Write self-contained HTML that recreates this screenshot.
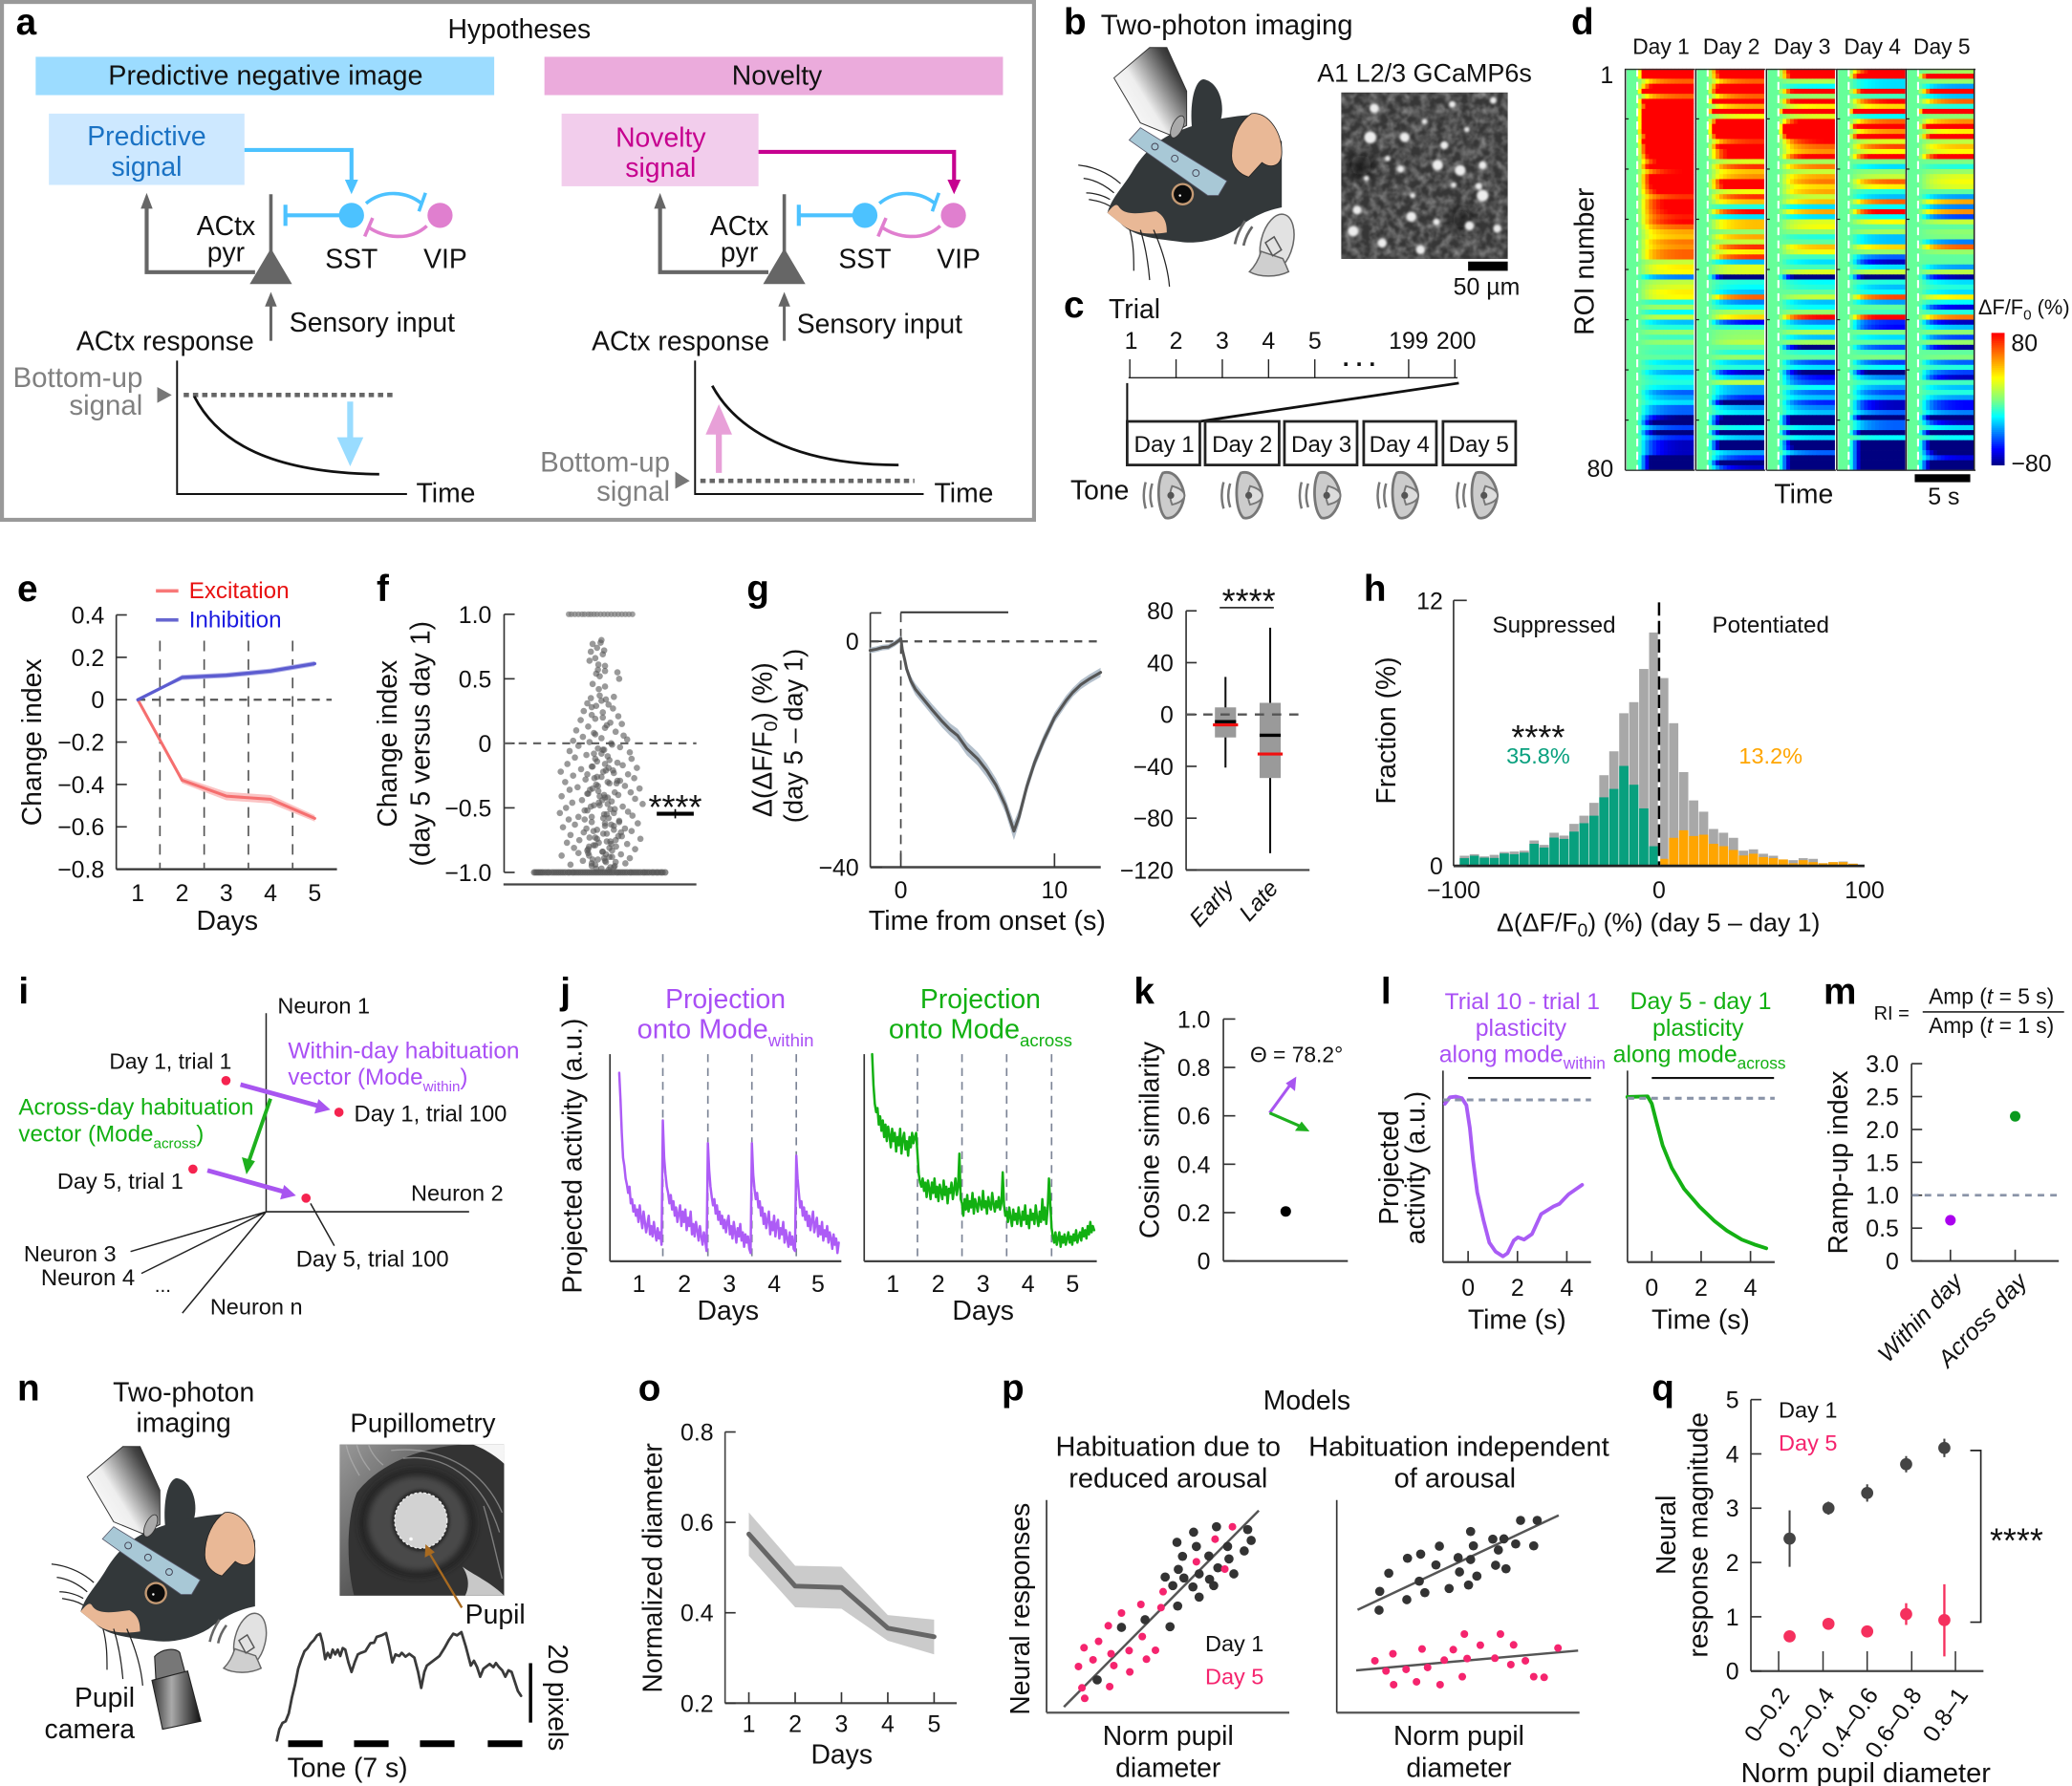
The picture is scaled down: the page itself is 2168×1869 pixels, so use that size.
<!DOCTYPE html>
<html lang="en"><head><meta charset="utf-8"><title>Habituation figure</title>
<style>
html,body{margin:0;padding:0;background:#fff}
svg{display:block}
text{font-family:"Liberation Sans",sans-serif;font-size:20.5px;fill:#111}
.m{text-anchor:middle}.e{text-anchor:end}
.L{font-size:28px;font-weight:bold;fill:#000}
.g{fill:#808080}.pu{fill:#a94ff5}.gr{fill:#12b012}.pk{fill:#f5246e}
.st{font-size:26px}
</style></head><body>
<svg id="fig" xmlns="http://www.w3.org/2000/svg" width="2168" height="1869" viewBox="0 0 1568 1352" preserveAspectRatio="none">
<defs>
<clipPath id="tpClip"><rect x="1015" y="70" width="126" height="126"/></clipPath>
<clipPath id="pupClip"><rect x="257" y="1093.500" width="124.500" height="114.500"/></clipPath>
<linearGradient id="objG" x1="0" y1="0.85" x2="1" y2="0.1"><stop offset="0" stop-color="#fff"/><stop offset=".4" stop-color="#eee"/><stop offset=".8" stop-color="#444"/><stop offset="1" stop-color="#111"/></linearGradient>
<linearGradient id="camG" x1="0" y1="0" x2="1" y2="0"><stop offset="0" stop-color="#333"/><stop offset=".4" stop-color="#aaa"/><stop offset="1" stop-color="#111"/></linearGradient>
<linearGradient id="furG" x1="0" y1="0" x2="1" y2="1"><stop offset="0" stop-color="#999"/><stop offset=".5" stop-color="#5c5c5c"/><stop offset="1" stop-color="#2c2c2c"/></linearGradient>
<filter id="noise" x="0" y="0" width="100%" height="100%"><feTurbulence type="fractalNoise" baseFrequency=".16" numOctaves="3" seed="4"/><feColorMatrix values="0 0 0 0 .8  0 0 0 0 .8  0 0 0 0 .8  1.6 0 0 0 -.55"/><feGaussianBlur stdDeviation=".5"/></filter>
<filter id="soft"><feGaussianBlur stdDeviation="1"/></filter>
<filter id="softer"><feGaussianBlur stdDeviation="5"/></filter>
<filter id="irisBlur"><feGaussianBlur stdDeviation="2.500"/></filter>
<g id="mouse">
<path d="M902,97 C900,75 905,60 911,60 C922,62 927,78 924,90 L915,100 Z" fill="#33383a"/>
<path d="M838,161 C842,148 850,142 858,128 C868,112 880,103 895,98 C910,92 930,88 947,87 L970,107 L970,157 C955,160 945,166 935,174 C922,182 905,185 893,183 C878,181 858,180 848,169 Z" fill="#33383a"/>
<path d="M838,161 C842,156 845,153 847,157 C852,164 865,161 875,160 C882,164 883,170 883,176 C872,178 856,177 848,169 Z" fill="#e9b896"/>
<path d="M947,86 C958,84 970,98 970,115 C970,126 962,128 955,123 L945,134 C938,132 932,126 932,118 C932,105 938,92 947,86 Z" fill="#e9b896" stroke="#222" stroke-width=".6"/>
<path d="M843,59 L870,36 L883,36 L898,69 L898,95 L885,102 L863,93 Z" fill="url(#objG)" stroke="#333" stroke-width=".7"/>
<ellipse cx="891" cy="96" rx="4" ry="9" transform="rotate(25 891 96)" fill="#aaa" stroke="#333" stroke-width=".6"/>
<path d="M854.5,106 L863,96.700 L928.500,137 L922,148 L914,148 Z" fill="#a8c8d6" stroke="#556" stroke-width=".6"/>
<circle cx="874" cy="111" r="2.500" fill="none" stroke="#445" stroke-width=".7"/><circle cx="889" cy="120" r="2.500" fill="none" stroke="#445" stroke-width=".7"/><circle cx="905" cy="131" r="2.500" fill="none" stroke="#445" stroke-width=".7"/>
<circle cx="895" cy="147" r="8.500" fill="#c49a74"/><circle cx="895" cy="147" r="6.800" fill="#0b0b0b"/><circle cx="893" cy="148" r=".9" fill="#fff"/>
<path d="M848,139 C838,130 826,126 816,125 M843,146 C836,140 828,136 820,135 M840,151 C835,148 828,146 822,146 M840,156 C835,153 830,152 824,151 M855,174 C858,185 858,195 858,205 M863,174 C867,187 869,200 870,212 M873,174 C880,190 884,205 885,217" fill="none" stroke="#222" stroke-width=".9"/>
</g>
<g id="spk">
<ellipse cx="4" cy="-3" rx="11" ry="20" transform="rotate(14 4 -3)" fill="#e2e2e2" stroke="#666" stroke-width="1"/>
<path d="M-7,3 C-9,10 -12,14 -15,17 C-8,21 4,21 12,17 C10,12 9,10 8,8 Z" fill="#cfcfcf" stroke="#666" stroke-width="1"/>
<path d="M-4,-3 L2,-7 L7,2 L1,6 Z" fill="none" stroke="#555" stroke-width="1"/>
<path d="M-13,-14 C-16,-10 -18,-6 -19,-1 M-18,-18 C-22,-12 -24,-7 -25,-2" fill="none" stroke="#666" stroke-width="1.800"/>
</g>
<g id="tone">
<path d="M-3,-17 C8,-20 13,-5 13,0 C13,6 8,19 -1,17 C-7,12 -8,-10 -3,-17 Z" fill="#ccc" stroke="#777" stroke-width="2"/>
<path d="M4,-7 C16,-4 17,4 4,7 C2,2 2,-2 4,-7Z" fill="#ddd" stroke="#777" stroke-width="1.400"/><circle cx="3" cy="0" r="2.600" fill="#555"/>
<path d="M-11,-9 C-13,-3 -13,3 -11,9 M-16,-10 C-18,-3 -18,3 -16,10" fill="none" stroke="#777" stroke-width="1.800"/>
</g>
</defs>

<!-- panel a -->
<g>
<rect x="1.500" y="1.500" width="781" height="392" fill="#fff" stroke="#999" stroke-width="3"/>
<text class="L" x="12" y="26">a</text>
<text class="m" x="393" y="29">Hypotheses</text>
<rect x="27" y="43" width="347" height="29" fill="#9cdcff"/>
<text class="m" x="201" y="64" style="font-size:20.800px">Predictive negative image</text>
<rect x="412" y="43" width="347" height="29" fill="#ebabdc"/>
<text class="m" x="588" y="64">Novelty</text>
<rect x="37" y="86" width="148" height="54" fill="#cde8ff"/>
<text class="m" x="111" y="110" style="fill:#1a72c4">Predictive</text>
<text class="m" x="111" y="133" style="fill:#1a72c4">signal</text>
<rect x="425" y="86" width="149" height="55" fill="#f2cdec"/>
<text class="m" x="500" y="111" style="fill:#c6008f">Novelty</text>
<text class="m" x="500" y="134" style="fill:#c6008f">signal</text>
<path d="M185,113.500 H266 V140" fill="none" stroke="#4cc2ff" stroke-width="3"/><path d="M261,136 H271 L266,147Z" fill="#4cc2ff"/>
<path d="M574,115 H722 V140" fill="none" stroke="#c6008f" stroke-width="3"/><path d="M717,136 H727 L722,147Z" fill="#c6008f"/>
<g id="circuit">
<path d="M205,147 V195" stroke="#666" stroke-width="2.600"/><path d="M205,188 L221,215 H189 Z" fill="#666"/>
<path d="M193,206 H111 V155" fill="none" stroke="#666" stroke-width="3"/><path d="M106.500,158 L111,146 L115.500,158Z" fill="#666"/>
<path d="M205,258 V228" stroke="#666" stroke-width="2.200"/><path d="M200.500,232 L205,221 L209.500,232Z" fill="#666"/>
<path d="M258,163 H216 M216,155 V171" stroke="#4cc2ff" stroke-width="3" fill="none"/>
<circle cx="266" cy="163" r="9.500" fill="#4cc2ff"/><circle cx="333" cy="163" r="9.500" fill="#e07fcf"/>
<path d="M277,154 C290,143 308,145 319,154 M322,146 L317,160" fill="none" stroke="#4cc2ff" stroke-width="2.600"/>
<path d="M323,171 C310,183 290,180 279,172 M282,165 L276,179" fill="none" stroke="#e07fcf" stroke-width="2.600"/>
<text class="m" x="171" y="178">ACtx</text><text class="m" x="171" y="198">pyr</text>
<text class="m" x="266" y="203">SST</text><text class="m" x="337" y="203">VIP</text>
</g>
<use href="#circuit" transform="translate(388.500,0)"/>
<text x="219" y="251">Sensory input</text>
<text x="603" y="252">Sensory input</text>
<text class="m" x="125" y="265">ACtx response</text>
<text class="m" x="515" y="265">ACtx response</text>
<path d="M134,273 V374 H308 M526,273 V374 H699" fill="none" stroke="#111" stroke-width="1.400"/>
<text x="315" y="380">Time</text><text x="707" y="380">Time</text>
<text class="e g" x="108" y="293" style="font-size:21.300px">Bottom-up</text><text class="e g" x="108" y="314" style="font-size:21.300px">signal</text>
<text class="e g" x="507" y="357" style="font-size:21.300px">Bottom-up</text><text class="e g" x="507" y="379" style="font-size:21.300px">signal</text>
<path d="M119,293 L130,299 L119,305Z M511,357 L522,364 L511,370Z" fill="#777"/>
<path d="M139,299 H297 M530,364 H692" stroke="#666" stroke-width="3.400" stroke-dasharray="4 3"/>
<path d="M147,300 C165,335 205,358 287,359" fill="none" stroke="#111" stroke-width="2"/>
<path d="M539,292 C557,325 600,352 680,352" fill="none" stroke="#111" stroke-width="2"/>
<path d="M265,304 V335" stroke="#99dcff" stroke-width="4.500"/><path d="M255,331 H275 L265,353Z" fill="#99dcff"/>
<path d="M544,358 V325" stroke="#e8a0d8" stroke-width="4.500"/><path d="M534,329 H554 L544,306Z" fill="#e8a0d8"/>
</g>

<!-- panel b -->
<g>
<text class="L" x="805" y="26">b</text>
<text x="833" y="26" style="font-size:21.200px">Two-photon imaging</text>
<use href="#mouse"/>
<use href="#spk" transform="translate(962,187) scale(1.100)"/>
<text class="m" x="1078" y="62" style="font-size:19.500px">A1 L2/3 GCaMP6s</text>
<rect x="1015" y="70" width="126" height="126" fill="#363636"/>
<rect x="1015" y="70" width="126" height="126" filter="url(#noise)" opacity=".55"/>
<g clip-path="url(#tpClip)"><g id="tpDark" filter="url(#softer)"><circle cx="1030" cy="125" r="8" fill="#0a0a0a"/><circle cx="1106" cy="166" r="7" fill="#0a0a0a"/></g></g>
<g id="tpBlobs" filter="url(#soft)"></g>
<rect x="1111" y="198" width="30" height="7" fill="#000"/>
<text class="m" x="1125" y="223" style="font-size:18px">50 µm</text>
</g>

<!-- panel c -->
<g font-size="18">
<text class="L" x="805" y="240">c</text>
<text x="839" y="241">Trial</text>
<text class="m" x="856" y="264" style="font-size:18px">1</text><text class="m" x="890" y="264" style="font-size:18px">2</text><text class="m" x="925" y="264" style="font-size:18px">3</text><text class="m" x="960" y="264" style="font-size:18px">4</text><text class="m" x="995" y="264" style="font-size:18px">5</text><text class="m" x="1066" y="264" style="font-size:18px">199</text><text class="m" x="1102" y="264" style="font-size:18px">200</text>
<path d="M855,272 V286 M890,272 V286 M925,272 V286 M960,272 V286 M995,272 V286 M1066,272 V286 M1101,272 V286 M854,286 H1103" fill="none" stroke="#222" stroke-width="1"/>
<text class="m" x="1031" y="277" style="font-size:18px;font-weight:bold;letter-spacing:5px">...</text>
<path d="M853,290 V319" stroke="#111" stroke-width="1.500"/><path d="M908,319 L1104,290" stroke="#111" stroke-width="2"/>
<g fill="#fff" stroke="#222" stroke-width="2"><rect x="853" y="319" width="55" height="33"/><rect x="912" y="319" width="56" height="33"/><rect x="972" y="319" width="55" height="33"/><rect x="1032" y="319" width="55" height="33"/><rect x="1092" y="319" width="55" height="33"/></g>
<text class="m" x="881" y="342" style="font-size:17.500px">Day 1</text><text class="m" x="940" y="342" style="font-size:17.500px">Day 2</text><text class="m" x="1000" y="342" style="font-size:17.500px">Day 3</text><text class="m" x="1059" y="342" style="font-size:17.500px">Day 4</text><text class="m" x="1119" y="342" style="font-size:17.500px">Day 5</text>
<text x="810" y="378">Tone</text>
<use href="#tone" transform="translate(883,375)"/><use href="#tone" transform="translate(942,375)"/><use href="#tone" transform="translate(1001,375)"/><use href="#tone" transform="translate(1060,375)"/><use href="#tone" transform="translate(1120,375)"/>
</g>

<!-- panel d -->
<g id="panelD">
<text class="L" x="1189" y="26">d</text>
<text class="e" x="1221" y="63" style="font-size:18px">1</text>
<text class="e" x="1221" y="361" style="font-size:18px">80</text>
<text class="m" transform="translate(1206,198) rotate(-90)">ROI number</text>
<text class="m" x="1365" y="381">Time</text>
<rect x="1449" y="359" width="42" height="6" fill="#000"/>
<text class="m" x="1471" y="382" style="font-size:18px">5 s</text>
<text x="1497" y="238" style="font-size:15.800px">ΔF/F<tspan font-size="11" dy="4">0</tspan><tspan dy="-4"> (%)</tspan></text>
<text x="1522" y="266" style="font-size:18px">80</text>
<text x="1522" y="357" style="font-size:18px">−80</text>
</g>

<!-- chart groups -->
<g id="panelE">
<text class="L" x="13" y="455">e</text>
<text class="m" transform="translate(31,562) rotate(-90)">Change index</text>
<text class="m" x="172" y="704">Days</text>
<rect x="118" y="446" width="17" height="2.600" fill="#f87878"/>
<text x="143" y="453" style="font-size:17.500px;fill:#e81010">Excitation</text>
<rect x="118" y="468" width="17" height="2.600" fill="#6666d0"/>
<text x="143" y="475" style="font-size:17.500px;fill:#1a1ae0">Inhibition</text>
</g>
<g id="panelF">
<text class="L" x="285" y="455">f</text>
<text class="m" transform="translate(300,563) rotate(-90)">Change index</text>
<text class="m" transform="translate(325,563) rotate(-90)">(day 5 versus day 1)</text>
<text class="m st" x="511" y="620">****</text>
</g>
<g id="panelG">
<text class="L" x="565" y="455">g</text>
<text class="m" transform="translate(584,560) rotate(-90)">Δ(ΔF/F<tspan font-size="14" dy="4">0</tspan><tspan dy="-4">) (%)</tspan></text>
<text class="m" transform="translate(607,557) rotate(-90)" style="font-size:19.800px">(day 5 – day 1)</text>
<text class="m" x="747" y="704" style="font-size:20.800px">Time from onset (s)</text>
<text class="m st" x="945" y="464">****</text>
</g>
<g id="panelH">
<text class="L" x="1032" y="455">h</text>
<text class="m" transform="translate(1056,553) rotate(-90)">Fraction (%)</text>
<text class="m" x="1176" y="479" style="font-size:17.500px">Suppressed</text>
<text class="m" x="1340" y="479" style="font-size:17.500px">Potentiated</text>
<text class="m st" x="1164" y="567">****</text>
<text class="m" x="1164" y="578" style="font-size:17px;fill:#08a07e">35.8%</text>
<text class="m" x="1340" y="578" style="font-size:17px;fill:#ffa500">13.2%</text>
<text class="m" x="1255" y="705" style="font-size:19.300px">Δ(ΔF/F<tspan font-size="14" dy="4">0</tspan><tspan dy="-4">) (%) (day 5 – day 1)</tspan></text>
</g>

<!-- panel i -->
<g>
<text class="L" x="14" y="760">i</text>
<path d="M201.400,767 V917.300 H355 M201.400,917.300 L98.800,947.400 M201.400,917.300 L107,964 M201.400,917.300 L138,994 M235,911 L253,943" fill="none" stroke="#222" stroke-width="1.100"/>
<g>
<text x="210" y="767" style="font-size:17px">Neuron 1</text><text class="m" x="129" y="809" style="font-size:16.500px">Day 1, trial 1</text><text x="268" y="849" style="font-size:17.200px">Day 1, trial 100</text><text class="m" x="91" y="900" style="font-size:17px">Day 5, trial 1</text><text x="311" y="909" style="font-size:17px">Neuron 2</text><text x="224" y="959" style="font-size:17.200px">Day 5, trial 100</text><text x="18" y="955" style="font-size:17px">Neuron 3</text><text x="31" y="973" style="font-size:17.300px">Neuron 4</text><text x="117" y="978" style="font-size:15px">...</text><text x="159" y="995" style="font-size:17px">Neuron n</text>
</g>
<text x="218" y="801" class="pu" style="font-size:17.700px">Within-day habituation</text>
<text x="218" y="821" class="pu" style="font-size:17.500px">vector (Mode<tspan font-size="11" dy="5">within</tspan><tspan dy="-5">)</tspan></text>
<text x="14" y="844" class="gr" style="font-size:17.500px">Across-day habituation</text>
<text x="14" y="864" class="gr" style="font-size:17.500px">vector (Mode<tspan font-size="11" dy="5">across</tspan><tspan dy="-5">)</tspan></text>
<g fill="#f5234f"><circle cx="171" cy="818" r="3.500"/><circle cx="256.500" cy="842" r="3.500"/><circle cx="146" cy="885" r="3.500"/><circle cx="231.600" cy="907" r="3.500"/></g>
<path d="M182,821 L244,838 M157,886 L218,903" stroke="#a855f0" stroke-width="3.500" fill="none"/>
<path d="M250,840 L238,843 L241,832Z M224,905 L212,908 L215,897Z" fill="#a855f0"/>
<path d="M204.700,831.700 L188,880" stroke="#1eb01e" stroke-width="2.800"/>
<path d="M186.500,889 L183,876 L193,879Z" fill="#1eb01e"/>
</g>

<g id="panelJ">
<text class="L" x="424" y="760">j</text>
<text class="m pu" x="549" y="763">Projection</text>
<text class="m pu" x="549" y="786" style="font-size:21px">onto Mode<tspan font-size="13.500" dy="6">within</tspan></text>
<text class="m gr" x="742" y="763">Projection</text>
<text class="m gr" x="742" y="786" style="font-size:21px">onto Mode<tspan font-size="13.500" dy="6">across</tspan></text>
<text class="m" transform="translate(440,875) rotate(-90)">Projected activity (a.u.)</text>
<text class="m" x="551" y="999">Days</text>
<text class="m" x="744" y="999">Days</text>
</g>
<g id="panelK">
<text class="L" x="858" y="760">k</text>
<text class="m" transform="translate(877,863) rotate(-90)">Cosine similarity</text>
<text x="946" y="804" style="font-size:16.500px">Θ = 78.2°</text>
<path d="M960.800,842.500 L978,819" stroke="#a855f0" stroke-width="2.200" fill="none"/>
<path d="M960.800,842.500 L985,853" stroke="#1eb01e" stroke-width="2.200" fill="none"/>
<path d="M981,815 L980,826 L973,820Z" fill="#a855f0"/><path d="M991,856.500 L980,856 L985,849Z" fill="#1eb01e"/>
</g>
<g id="panelL">
<text class="L" x="1045" y="760">l</text>
<text class="m pu" x="1152" y="764" style="font-size:17.700px">Trial 10 - trial 1</text>
<text class="m pu" x="1151" y="784" style="font-size:18px">plasticity</text>
<text class="m pu" x="1152" y="804" style="font-size:18px">along mode<tspan font-size="12.500" dy="5">within</tspan></text>
<text class="m gr" x="1287" y="764" style="font-size:18px">Day 5 - day 1</text>
<text class="m gr" x="1285" y="784" style="font-size:18px">plasticity</text>
<text class="m gr" x="1286" y="804" style="font-size:18px">along mode<tspan font-size="12.500" dy="5">across</tspan></text>
<text class="m" transform="translate(1058,884) rotate(-90)">Projected</text>
<text class="m" transform="translate(1078,884) rotate(-90)">activity (a.u.)</text>
<text class="m" x="1148" y="1006">Time (s)</text>
<text class="m" x="1287" y="1006">Time (s)</text>
</g>
<g id="panelM">
<text class="L" x="1380" y="760">m</text>
<text x="1418" y="772" style="font-size:14.500px">RI =</text>
<text class="m" x="1507" y="760" style="font-size:16.500px">Amp (<tspan font-style="italic">t</tspan> = 5 s)</text>
<path d="M1455,766 H1562" stroke="#222" stroke-width="1.200"/>
<text class="m" x="1507" y="782" style="font-size:16.500px">Amp (<tspan font-style="italic">t</tspan> = 1 s)</text>
<text class="m" transform="translate(1398,880) rotate(-90)">Ramp-up index</text>
</g>

<!-- panel n -->
<g id="panelN">
<text class="L" x="13" y="1060">n</text>
<text class="m" x="139" y="1061">Two-photon</text>
<text class="m" x="139" y="1084">imaging</text>
<use href="#mouse" transform="translate(-777,1059)"/>
<use href="#spk" transform="translate(185,1245) scale(1.050)"/>
<path d="M117,1254 C122,1248 133,1247 136,1251 L140,1266 L118,1272 Z" fill="#777" stroke="#222" stroke-width=".8"/>
<path d="M115,1272 L142,1265 L152,1303 L123,1309 Z" fill="url(#camG)" stroke="#222" stroke-width=".8"/>
<text class="e" x="102" y="1292">Pupil</text>
<text class="e" x="102" y="1316">camera</text>
<text class="m" x="320" y="1084" style="font-size:20px">Pupillometry</text>
<g clip-path="url(#pupClip)">
<rect x="257" y="1093.500" width="124.500" height="114.500" fill="#333"/>
<path d="M257,1093.500 H350 C315,1096 285,1110 270,1130 C262,1150 262,1185 268,1208 H257Z" fill="url(#furG)"/>
<path d="M358,1093.500 H381.500 V1108 C375,1102 367,1097 358,1093.500Z" fill="#f5f5f5"/>
<path d="M350,1186 C358,1192 372,1198 381.500,1208 H352 C356,1200 354,1192 350,1186Z" fill="#c8c8c8"/>
<path d="M262,1094 C264,1103 268,1110 272,1117 M270,1094 C272,1102 276,1108 280,1113 M279,1094 C281,1100 286,1106 290,1109 M296,1098 C330,1094 365,1110 380,1145 M305,1104 C335,1100 365,1118 378,1160 M366,1140 C372,1160 376,1180 380,1195" fill="none" stroke="#bbb" stroke-width="1" opacity=".55"/>
<ellipse cx="316" cy="1153" rx="44" ry="41" fill="#222" filter="url(#irisBlur)"/>
<ellipse cx="316" cy="1153" rx="38" ry="36" fill="#4a4a4a" filter="url(#irisBlur)"/>
<ellipse cx="318.500" cy="1151" rx="22" ry="23.500" fill="#2a2a2a" filter="url(#soft)"/>
<ellipse cx="318.500" cy="1151" rx="19.800" ry="21" fill="#d2d2d2" stroke="#eee" stroke-width="1" stroke-dasharray="2 1.500"/>
<circle cx="311" cy="1165" r="1.300" fill="#fff"/>
</g>
<path d="M349.500,1217 L324.500,1175" stroke="#a86a20" stroke-width="1.700"/><path d="M322,1169 L329,1175 L321.500,1179Z" fill="#a86a20"/>
<text x="352" y="1229">Pupil</text>
<path d="M401.500,1259 V1304" stroke="#000" stroke-width="2.500"/>
<text class="m" transform="translate(415,1285) rotate(90)">20 pixels</text>
<text class="m" x="263" y="1345">Tone (7 s)</text>
</g>
<g id="panelO">
<text class="L" x="483" y="1060">o</text>
<text class="m" transform="translate(501,1187) rotate(-90)">Normalized diameter</text>
<text class="m" x="637" y="1335">Days</text>
</g>
<g id="panelP">
<text class="L" x="758" y="1060">p</text>
<text class="m" x="989" y="1067">Models</text>
<text class="m" x="884" y="1102" style="font-size:21px">Habituation due to</text>
<text class="m" x="884" y="1126" style="font-size:21px">reduced arousal</text>
<text class="m" x="1104" y="1102" style="font-size:21px">Habituation independent</text>
<text class="m" x="1101" y="1126" style="font-size:21px">of arousal</text>
<text class="m" transform="translate(779,1218) rotate(-90)">Neural responses</text>
<text x="912" y="1250" style="font-size:17px">Day 1</text>
<text x="912" y="1275" class="pk" style="font-size:17px">Day 5</text>
<text class="m" x="884" y="1321">Norm pupil</text>
<text class="m" x="884" y="1345">diameter</text>
<text class="m" x="1104" y="1321">Norm pupil</text>
<text class="m" x="1104" y="1345">diameter</text>
</g>
<g id="panelQ">
<text class="L" x="1250" y="1060">q</text>
<text class="m" transform="translate(1268,1162) rotate(-90)">Neural</text>
<text class="m" transform="translate(1292,1162) rotate(-90)">response magnitude</text>
<text x="1346" y="1073" style="font-size:17px">Day 1</text>
<text x="1346" y="1098" class="pk" style="font-size:17px">Day 5</text>
<path d="M1491,1098 H1499 V1228 H1491" fill="none" stroke="#222" stroke-width="1.200"/>
<text class="m st" x="1526" y="1175">****</text>
<text class="m" x="1412" y="1349" style="font-size:21px">Norm pupil diameter</text>
</g>
</svg>

<script>
// ---------- Panel d data (late-response amplitude per ROI, one array per day) ----------
const heatDays = ['Day 1','Day 2','Day 3','Day 4','Day 5'];
const heatProfile = [0,0,0,.1,.3,.5,.65,.75,.82,.87,.91,.94,.96,.98,.99,1,1,1];
const heatBaseline = -4;
const heatDay1 = [300,300,60,120,300,60,300,200,300,300,
300,300,350,200,300,200,200,150,100,150,
80,130,130,120,100,70,90,90,85,75,
80,60,45,40,55,50,60,60,15,30,
27,-40,13,20,30,27,-15,8,-20,15,
-30,-15,5,-10,5,-8,-10,-5,-25,-15,
-35,-20,-15,-25,-45,-35,-25,-45,-45,-80,
-110,-50,-100,-55,-70,-70,-70,-120,-120,-120];
const heatDay2 = [150,130,60,150,200,60,300,45,400,25,
180,300,300,200,70,150,100,100,20,70,
40,50,120,110,25,70,40,-15,80,-25,
40,40,5,45,15,70,30,70,-30,20,
20,-110,-15,-20,-30,60,-40,-20,10,35,
-60,-15,3,5,13,-5,-15,5,-30,-15,
-70,-30,13,-35,-35,-55,-110,-35,-25,-110,
-130,-20,-130,-30,-130,-130,-35,-55,-130,-70];
const heatDay3 = [150,130,10,-20,120,5,120,30,400,20,
100,300,300,200,80,60,50,90,8,55,
15,45,55,35,45,15,40,-25,45,-25,
20,25,5,-15,-5,40,25,-10,-25,-10,
20,-110,-20,-15,-5,15,-30,-20,5,80,
-40,-20,10,-30,8,-90,-15,-5,-50,-25,
-90,-60,-50,-20,-45,-30,-55,-40,-30,-130,
-130,-25,-130,-25,-120,-110,-45,-130,-130,-130];
const heatDay4 = [100,200,-25,-25,120,-10,80,35,400,-20,
60,250,50,200,20,65,27,100,0,-25,
3,15,60,30,-15,-30,60,-20,90,-20,
27,-5,8,-30,-30,35,5,-45,-70,-25,
15,-110,-15,-30,-20,65,-35,-5,-10,90,
-55,-60,0,-25,-5,-50,-10,0,-50,-20,
-100,-40,-15,-35,-50,-35,-70,-70,-45,-130,
-45,-45,-130,-20,-130,-130,-130,-130,-130,-130];
const heatDay5 = [8,200,5,-35,120,-30,60,-15,400,3,
50,200,30,130,13,40,27,100,0,-15,
5,20,25,20,-5,-35,45,-40,50,-50,
15,-5,3,0,-40,60,5,-5,-5,-35,
12,-75,-25,-15,-25,30,-20,-65,-15,55,
-70,-30,3,-50,5,-75,-5,0,-45,-15,
-50,-70,-10,-30,-15,-35,-60,-60,-40,-130,
-70,-25,-130,-20,-130,-130,-100,-65,-130,-130];
const colorbarLevels = [80,70,60,50,40,30,20,10,0,-10,-20,-30,-40,-50,-60,-70,-80];

// ---------- Panel e ----------
const eDays = [1,2,3,4,5];
const eExcitation = [0,-0.38,-0.455,-0.47,-0.56];
const eExcitationErr = [0,0.015,0.02,0.02,0.015];
const eInhibition = [0,0.105,0.115,0.135,0.17];
const eInhibitionErr = [0,0.012,0.012,0.012,0.012];
const eYTicks = [0.4,0.2,0,-0.2,-0.4,-0.6,-0.8];
const eYLabels = ['0.4','0.2','0','−0.2','−0.4','−0.6','−0.8'];

// ---------- Panel f ----------
const fYTicks = [1,0.5,0,-0.5,-1];
const fYLabels = ['1.0','0.5','0','−0.5','−1.0'];
const fValues = [.80,.78,.77,.74,.72,.71,.69,.66,.64,.61,.60,.57,.56,.55,.54,.52,.50,.46,.44,.42,
.37,.36,.35,.34,.33,.31,.30,.29,.27,.25,.24,.22,.21,.19,.18,.16,.15,.13,.12,.10,
.09,.08,.06,.05,.04,.03,.02,.01,-.01,-.02,-.03,-.05,-.06,-.07,-.09,-.10,-.11,-.12,-.14,-.15,
-.16,-.17,-.18,-.19,-.20,-.21,-.22,-.23,-.24,-.25,-.26,-.27,-.28,-.29,-.30,-.31,-.32,-.33,-.34,-.35,
-.36,-.37,-.38,-.39,-.40,-.41,-.42,-.43,-.44,-.45,-.46,-.47,-.48,-.49,-.50,-.51,-.52,-.53,-.54,-.55,
-.56,-.57,-.58,-.59,-.60,-.61,-.62,-.63,-.64,-.65,-.66,-.67,-.68,-.69,-.70,-.71,-.72,-.73,-.74,-.75,
-.76,-.77,-.78,-.79,-.80,-.81,-.82,-.83,-.84,-.85,-.86,-.87,-.88,-.89,-.90,-.91,-.92,-.93,-.94,-.95,
-.16,-.21,-.27,-.31,-.36,-.41,-.47,-.52,-.58,-.63,-.68,-.72,-.77,-.81,-.85,-.89,-.93,-.96,-.97,-.98,
-.12,-.19,-.24,-.33,-.38,-.44,-.49,-.55,-.61,-.66,-.70,-.75,-.79,-.83,-.87,-.91,-.94,-.96,-.05,-.08,
-.22,-.29,-.35,-.42,-.48,-.54,-.59,-.64,-.69,-.74,-.78,-.82,-.86,-.90,-.92,-.95,-.97,-.13,-.26,-.40,
-.46,-.51,-.57,-.62,-.67,-.73,-.76,-.80,-.84,-.88,.28,.20,.14,.07,.00,-.04,-.08,-.18,-.30,-.39];
const fJitter = [.02,.0,-.18,-.08,.08,-.22,.05,-.12,-.25,-.05,.1,-.06,.1,.38,-.1,-.02,.42,-.18,.1,-.04,
-.02,.3,-.22,.12,.02,-.3,.18,-.1,.28,-.38,.05,-.2,.4,-.12,-.45,.22,.48,-.28,.1,-.55,
.34,-.15,.52,-.4,.02,.6,-.62,-.25,.26,-.5,.44,.08,-.7,.66,-.32,.16,-.58,.7,-.08,.38,
-.75,.5,-.2,.82,-.44,.12,-.9,.3,.62,-.62,.02,.76,-.34,.44,-.8,.2,-.1,.55,-.52,.88,
-.7,-.05,.68,-.28,.4,-.88,.1,.78,-.42,.25,-.64,.95,-.15,.5,-.78,.32,-.3,.62,-.92,.08,
.72,-.5,.18,-.72,.42,-.2,.84,-.58,.3,-.85,.55,-.08,.7,-.38,.14,-.68,.48,-.25,.9,-.48,
.22,-.76,.6,-.12,.35,-.6,.78,-.3,.05,-.5,.46,-.88,.26,.66,-.18,-.4,.12,.56,-.68,.32,
.1,.28,-.14,.36,-.24,-.02,.16,-.36,.06,.24,-.16,.4,-.04,.2,-.28,.08,-.2,.3,-.1,.18,
-.12,.18,-.3,-.06,.32,.04,-.22,.14,.42,-.32,.06,.34,-.16,.26,-.26,.1,-.12,.22,.05,-.15,
.06,.38,-.18,.16,-.02,.3,-.36,.1,.46,-.08,.24,-.28,.12,-.06,.34,-.2,.02,.2,-.08,.08,
-.04,.22,-.2,.1,.3,-.12,.14,-.26,.04,.2,-.2,.05,.14,-.12,.24,-.06,.02,-.18,.16,-.3];
const fBottomRow = [-1.5,-1.46,-1.42,-1.38,-1.34,-1.3,-1.25,-1.2,-1.16,-1.1,-1.05,-1,-.95,-.9,-.85,-.8,-.74,-.7,-.64,-.6,-.55,-.5,-.45,-.4,-.35,-.3,-.25,-.2,-.15,-.1,-.05,0,.05,.1,.15,.2,.25,.3,.36,.4,.45,.5,.55,.6,.66,.7,.75,.8,.85,.9,.96,1,1.05,1.1,1.16,1.2,1.26,1.3,1.36,1.4,1.46];
const fTopRow = [-.72,-.66,-.58,-.5,-.42,-.36,-.28,-.22,-.15,-.08,0,.08,.16,.24,.32,.4,.48,.56,.64,.72];

// ---------- Panel g ----------
const gTime = [-2,-1.6,-1.2,-0.8,-0.4,-0.1,0,0.1,0.25,0.38,0.65,0.95,1.4,2,2.7,3.2,3.7,4.3,5,5.6,6.2,6.8,7.36,7.7,8.2,8.7,9.3,10,10.75,11.2,11.7,12.3,13];
const gValue = [-1.6,-1.4,-1.1,-1,-.4,.2,.5,-1.5,-3.2,-4.9,-7,-8.5,-10,-12,-14.2,-15.6,-16.7,-19,-20.8,-22.9,-25.5,-29,-33.6,-31,-25.7,-21.5,-17.5,-13.5,-10.5,-9,-7.7,-6.6,-5.5];
const gErr = [.5,.5,.5,.5,.5,.5,.5,.6,.7,.8,.9,1,1,1,1.1,1.1,1.2,1.2,1.2,1.2,1.2,1.3,1.6,1.3,1.1,1,1,.9,.9,.8,.8,.8,.8];
const gXTicks = [0,10];
const gYTicks = [0,-40];
const gYLabels = ['0','−40'];
const boxCategories = ['Early','Late'];
const boxWhiskerLow = [-41,-107];
const boxWhiskerHigh = [29,67];
const boxQ1 = [-17.7,-49];
const boxQ3 = [5.5,9];
const boxMedian = [-5.5,-16];
const boxMean = [-8,-30.500];
const boxYTicks = [80,40,0,-40,-80,-120];
const boxYLabels = ['80','40','0','−40','−80','−120'];

// ---------- Panel h ----------
const hLeftTotal = [.46,.53,.43,.5,.63,.65,.69,1.15,.95,1.5,1.37,1.9,2.27,2.85,4.1,5.18,6.9,7.4,8.9,10.55];
const hLeftSig = [.35,.46,.37,.36,.56,.53,.6,1.0,.83,1.28,1.22,1.55,1.93,2.27,3.1,3.48,4.52,3.67,2.6,.89];
const hRightTotal = [8.49,6.45,4.24,2.96,2.45,1.67,1.5,1.27,.69,.75,.55,.46,.29,.26,.35,.32,.12,.17,.2,.1];
const hRightSig = [.32,1.27,1.61,1.35,1.41,1.0,.89,.72,.47,.55,.4,.35,.29,.12,.26,.17,.12,.17,.17,.1];
const hBinWidth = 4.85;
const hXTicks = [-100,0,100];
const hXLabels = ['−100','0','100'];
const hYTicks = [12,0];

// ---------- Panel j ----------
const jDayLabels = ['1','2','3','4','5'];
const jWithin = [
[.91,.78,.62,.50,.46,.40,.37,.33,.36,.28,.30,.24,.27,.22,.25,.19,.27,.21,.16,.24,.19,.14,.18,.22,.13,.17,.12,.19,.14,.10,.16,.11,.14,.08],
[.68,.50,.42,.36,.33,.28,.32,.25,.29,.22,.26,.19,.23,.27,.17,.24,.19,.25,.15,.21,.17,.24,.13,.18,.12,.19,.15,.10,.17,.12,.08,.14,.10,.05],
[.57,.44,.36,.31,.27,.30,.23,.27,.20,.24,.18,.22,.16,.20,.14,.19,.22,.13,.17,.11,.19,.14,.09,.16,.12,.18,.10,.14,.07,.13,.09,.12,.06,.04],
[.57,.42,.35,.30,.33,.26,.29,.22,.26,.18,.23,.16,.20,.24,.13,.19,.15,.22,.12,.18,.20,.11,.16,.13,.19,.09,.15,.11,.07,.14,.08,.12,.06,.05],
[.51,.40,.33,.26,.29,.22,.26,.20,.24,.17,.22,.15,.20,.24,.14,.18,.21,.12,.17,.13,.19,.10,.15,.12,.17,.09,.14,.11,.06,.13,.08,.11,.04,.09]];
const jAcross = [
[1.0,.85,.76,.72,.74,.66,.70,.63,.68,.60,.66,.58,.65,.61,.55,.64,.58,.62,.53,.60,.56,.64,.52,.59,.62,.54,.58,.51,.60,.55,.62,.57,.60,.62],
[.52,.42,.38,.36,.40,.34,.38,.31,.39,.35,.30,.38,.33,.40,.31,.36,.29,.37,.34,.30,.39,.32,.36,.28,.35,.33,.38,.30,.35,.40,.32,.36,.52,.30],
[.28,.22,.30,.25,.32,.24,.29,.26,.33,.23,.30,.27,.24,.31,.28,.25,.34,.26,.29,.23,.31,.27,.25,.33,.28,.24,.29,.26,.31,.25,.28,.43,.27,.22],
[.24,.19,.26,.21,.17,.25,.20,.23,.18,.26,.21,.17,.24,.20,.27,.18,.22,.16,.25,.20,.23,.18,.27,.21,.17,.24,.19,.30,.20,.26,.18,.25,.40,.28],
[.16,.12,.09,.14,.08,.11,.14,.07,.12,.09,.13,.08,.11,.14,.09,.12,.08,.13,.10,.15,.09,.12,.14,.10,.16,.12,.15,.11,.17,.13,.19,.14,.17,.15]];

// ---------- Panel k ----------
const kCosine = [0.205];
const kYTicks = [1,0.8,0.6,0.4,0.2,0];
const kYLabels = ['1.0','0.8','0.6','0.4','0.2','0'];

// ---------- Panel l ----------
const lWithinTime = [-.94,-.74,-.49,-.25,-.07,.07,.2,.37,.62,.86,1.11,1.41,1.6,1.85,2.02,2.27,2.59,2.96,3.46,3.7,4.07,4.62];
const lWithinValue = [.976,1.016,1.02,1.01,.967,.827,.63,.43,.26,.12,.065,.035,.055,.133,.153,.139,.173,.296,.343,.359,.418,.476];
const lAcrossTime = [-.99,-.17,0,.2,.44,.81,1.31,1.93,2.54,3.04,3.65,4.15,4.64];
const lAcrossValue = [1.008,1.012,.967,.849,.712,.575,.447,.339,.251,.192,.137,.108,.084];
const lXTicks = [0,2,4];

// ---------- Panel m ----------
const mCategories = ['Within day','Across day'];
const mValues = [0.62,2.2];
const mColors = ['#aa00ee','#0a9a1e'];
const mYTicks = [3,2.5,2,1.5,1,0.5,0];
const mYLabels = ['3.0','2.5','2.0','1.5','1.0','0.5','0'];

// ---------- Panel n (frames, and signal where 185 units = 20 pixels) ----------
const pupilFrame = [0,4,9,14,19,24,29,34,39,44,49,54,59,64,69,73,77,81,85,89,93,97,101,105,109,114,119,124,129,134,141,149,155,159,167,174,179,184,189,195,199,205,211,219,225,230,235,239,249,259,267,274,281,287,294,301,309,314,319,324,329,339,345,349,354,359,364,369,374,379,384,389];
const pupilSignal = [0,35,55,60,85,135,175,225,255,280,290,305,315,330,335,305,255,275,260,285,270,285,265,290,285,245,215,245,270,275,280,305,307,325,330,337,295,245,270,265,275,263,272,260,215,165,215,235,250,265,290,315,335,330,340,295,235,250,230,200,225,240,230,243,230,220,200,220,215,185,155,140];
const toneOnsets = [18,123,228,336];
const toneDuration = 55;

// ---------- Panel o ----------
const oDays = [1,2,3,4,5];
const oMean = [.574,.459,.456,.366,.347];
const oUpper = [.622,.504,.502,.395,.385];
const oLower = [.526,.412,.409,.338,.308];
const oYTicks = [.8,.6,.4,.2];
const oYLabels = ['0.8','0.6','0.4','0.2'];

// ---------- Panel p (arbitrary units, x 0–350, y 0–668) ----------
const pLeftDay1X = [73,108,142,178,189,220,211,182,241,235,171,198,220,270,190,247,263,196,234,216,261,285,188,295,212,290,245];
const pLeftDay1Y = [103,268,292,270,335,363,395,399,399,419,426,423,436,436,450,455,483,491,492,522,522,508,535,541,567,575,584];
const pLeftDay5X = [55,51,91,46,67,97,120,144,93,119,157,54,75,138,89,108,136,165,168,216,257,243,268];
const pLeftDay5Y = [45,78,82,145,166,148,128,168,185,195,196,204,224,239,273,313,340,330,380,474,451,545,584];
const pRightDay1X = [61,62,101,127,162,190,202,177,119,75,143,102,121,148,175,193,193,197,225,241,233,229,244,258,284,265,289];
const pRightDay1Y = [322,381,355,377,390,401,429,442,413,438,464,485,498,523,487,481,569,524,545,546,511,463,452,530,524,604,604];
const pRightDay5X = [82,115,149,181,284,299,71,100,131,55,81,123,155,188,168,207,228,251,272,255,184,236,319];
const pRightDay5Y = [88,97,88,113,113,111,131,136,142,163,185,200,165,170,198,212,171,151,163,213,247,247,203];
const pLeftFitX = [25,306];
const pLeftFitY = [18,635];
const pRightDay1FitX = [30,320];
const pRightDay1FitY = [323,620];
const pRightDay5FitX = [28,348];
const pRightDay5FitY = [133,195];

// ---------- Panel q ----------
const qBins = ['0–0.2','0.2–0.4','0.4–0.6','0.6–0.8','0.8–1'];
const qDay1 = [2.44,3.0,3.28,3.81,4.11];
const qDay1Err = [.52,.12,.16,.15,.17];
const qDay5 = [.64,.87,.73,1.05,.94];
const qDay5ErrLow = [.1,.1,.08,.2,.67];
const qDay5ErrHigh = [.1,.1,.08,.2,.66];
const qYTicks = [5,4,3,2,1,0];

// ---------- illustration data ----------
const tpBlobX = [1040,1099,1130,1037,1063,1093,1088,1105,1122,1060,1122,1027,1068,1024,1046,1075,1112,1133,1087,1119,1069,1050,1100,1078,1034,1110];
const tpBlobY = [82,79,76,104,104,110,125,129,125,128,148,159,164,175,184,189,171,173,168,141,148,120,140,92,135,98];
const tpBlobR = [3.6,2.6,2.6,4.6,3.6,3,4,4,3,2.6,4.4,3.4,3.8,4,3.5,3.5,3.5,3,2.6,2.6,2,2,2,2,2,2];

// ---------- helpers ----------
const NS = 'http://www.w3.org/2000/svg';
const byId = id => document.getElementById(id);
function scale(d0,d1,r0,r1){ return v => r0 + (v-d0)/(d1-d0)*(r1-r0); }
function create(tag, attrs, parent){
  const el = document.createElementNS(NS, tag);
  for (const k in attrs) el.setAttribute(k, attrs[k]);
  parent.appendChild(el);
  return el;
}
function line(parent, name, x1, y1, x2, y2, stroke, width, dash){
  const el = create('line', {x1, y1, x2, y2, stroke, 'stroke-width': width}, parent);
  if (dash) el.setAttribute('stroke-dasharray', dash);
  
  
  return el;
}
function label(parent, name, x, y, str, anchor, size){
  const el = create('text', {x, y, 'text-anchor': anchor}, parent);
  el.style.fontSize = size + 'px';
  el.textContent = str;
  
  
  return el;
}
function rotLabel(parent, name, x, y, str, angle, size, italic){
  const el = create('text', {transform: 'translate('+x+','+y+') rotate('+angle+')', 'text-anchor': 'end'}, parent);
  el.style.fontSize = size + 'px';
  if (italic) el.style.fontStyle = 'italic';
  el.textContent = str;
  
  
  return el;
}
function curve(parent, name, xs, ys, stroke, width){
  const d = xs.map((x,i)=>(i?'L':'M')+x.toFixed(2)+','+ys[i].toFixed(2)).join(' ');
  const el = create('path', {d, fill:'none', stroke, 'stroke-width': width, 'stroke-linejoin':'round', 'stroke-linecap':'round'}, parent);
  
  
  return el;
}
function band(parent, name, xs, lo, hi, fill){
  const top = xs.map((x,i)=>(i?'L':'M')+x.toFixed(2)+','+hi[i].toFixed(2)).join(' ');
  const bot = xs.map((x,i)=>'L'+xs[xs.length-1-i].toFixed(2)+','+lo[xs.length-1-i].toFixed(2)).join(' ');
  const el = create('path', {d: top+' '+bot+' Z', fill}, parent);
  
  
  return el;
}
function dot(parent, name, x, y, r, fill, opacity){
  const el = create('circle', {cx:x, cy:y, r, fill}, parent);
  if (opacity) el.setAttribute('opacity', opacity);
  
  
  return el;
}
function yTicks(parent, sy, ticks, labels, axisX, len, labelX, size){
  ticks.forEach((t,i)=>{
    line(parent, 'y-tick', axisX, sy(t), axisX+len, sy(t), '#333', 1.2);
    if (labels) label(parent, 'y-tick-label', labelX, sy(t)+size*0.36, labels[i], 'end', size);
  });
}

// ---------- panel b two-photon blobs ----------
tpBlobX.forEach((x,i)=>{ dot(byId('tpBlobs'), 'neuron-soma', x, tpBlobY[i], tpBlobR[i], '#ededed'); });

// ---------- panel d ----------
(function(){
  const g = byId('panelD');
  const days = [heatDay1,heatDay2,heatDay3,heatDay4,heatDay5];
  const panelX = [1231,1284.3,1337.8,1391,1443.5];
  const cols = heatProfile.length, rowH = 304/80, panelW = 50.5;
  const jet = v => {
    const u = Math.max(-80,Math.min(80,v));
    const t = u>=0 ? .5+u/80*.375 : .5+u/80*.5;
    const c = a => Math.round(255*Math.max(0,Math.min(1,1.5-Math.abs(4*t-a))));
    return 'rgb('+c(3)+','+c(2)+','+c(1)+')';
  };
  days.forEach((vals,d)=>{
    const px = panelX[d], cw = panelW/cols;
    const sRow = scale(0,80,52,356);
    vals.forEach((amp,r)=>{
      heatProfile.forEach((p,c)=>{
        const v = heatBaseline*(1-p)+amp*p;
        const el = create('rect',{x:(px+c*cw).toFixed(2),y:sRow(r).toFixed(2),width:(cw+.3).toFixed(2),height:(rowH+.25).toFixed(2),fill:jet(v)},g);
        
        
      });
    });
    line(g,'stimulus-onset-line',px+8,52,px+8,356,'#fff',1.5,'6 4');
    line(g,'panel-divider',px-1,52,px-1,356,'#222',1.1);
    line(g,'panel-top-edge',px-1,52.5,px+panelW+1,52.5,'#333',1);
    line(g,'panel-bottom-edge',px-1,356,px+panelW+1,356,'#333',1);
    [10,20,30,40,50,60,70].forEach(r=>{ line(g,'roi-tick',px-1,sRow(r),px+1.5,sRow(r),'#222',.9); });
    label(g,'day-label',px+26,41,heatDays[d],'middle',16.5);
  });
  line(g,'panel-divider',1494,52,1494,356,'#222',1.1);
  const sBar = scale(80,-80,252,352);
  colorbarLevels.forEach((lv,i)=>{
    if (i===colorbarLevels.length-1) return;
    const y0 = sBar(lv), y1 = sBar(colorbarLevels[i+1]);
    for (let k=0;k<4;k++){
      const el = create('rect',{x:1507,y:(y0+(y1-y0)*k/4).toFixed(2),width:10,height:((y1-y0)/4+.3).toFixed(2),fill:jet(lv+(colorbarLevels[i+1]-lv)*k/4)},g);
      
      
    }
  });
})();

// ---------- panel e ----------
(function(){
  const g = byId('panelE');
  const sx = scale(1,5,104.3,238.2), sy = scale(0.4,-0.8,465.5,658);
  line(g,'y-axis',88,465.5,88,658,'#333',1.2);
  line(g,'x-axis',88,658,255,658,'#333',1.6);
  yTicks(g,sy,eYTicks,eYLabels,88,8,79,18);
  [1,2,3,4].forEach(d=>{ line(g,'day-boundary',sx(d+.5),485,sx(d+.5),658,'#555',1.2,'8 6'); });
  line(g,'zero-line',104,sy(0),251,sy(0),'#555',1.6,'6 5');
  eDays.forEach(d=>{ label(g,'x-tick-label',sx(d),682,String(d),'middle',18); });
  const xs = eDays.map(sx);
  band(g,'excitation-band',xs,eExcitation.map((v,i)=>sy(v-eExcitationErr[i])),eExcitation.map((v,i)=>sy(v+eExcitationErr[i])),'#fbc4c4');
  band(g,'inhibition-band',xs,eInhibition.map((v,i)=>sy(v-eInhibitionErr[i])),eInhibition.map((v,i)=>sy(v+eInhibitionErr[i])),'#b4b4ea');
  curve(g,'excitation-line',xs,eExcitation.map(sy),'#f56f6f',2.2);
  curve(g,'inhibition-line',xs,eInhibition.map(sy),'#5c5cd0',2.4);
})();

// ---------- panel f ----------
(function(){
  const g = byId('panelF');
  const sy = scale(1,-1,465,660.4), sj = scale(-1,1,421,488);
  line(g,'y-axis',381.5,465,381.5,660.4,'#333',1.2);
  line(g,'bottom-line',381,669.5,527,669.5,'#444',1.6);
  yTicks(g,sy,fYTicks,fYLabels,381.5,8,372,18);
  line(g,'zero-line',381.5,sy(0),527,sy(0),'#666',1.6,'6 5');
  fValues.forEach((v,i)=>{ dot(g,'roi-point',sj(fJitter[i]||0),sy(v),2.4,'#555','.6'); });
  fBottomRow.forEach(j=>{ dot(g,'roi-point-floor',sj(j),sy(-1),2.5,'#555','.7'); });
  fTopRow.forEach(j=>{ dot(g,'roi-point-ceiling',sj(j),sy(1),2.2,'#777','.7'); });
  line(g,'median-bar',497,616,525,616,'#000',3);
  line(g,'median-tick',511,612.5,511,619.5,'#000',1.2);
})();

// ---------- panel g ----------
(function(){
  const g = byId('panelG');
  const sx = scale(0,10,681.7,798), sy = scale(0,-40,485.5,656.5);
  line(g,'y-axis',658.6,464,658.6,656.5,'#333',1.2);
  line(g,'x-axis',658.6,656.5,833,656.5,'#444',1.8);
  yTicks(g,sy,gYTicks,gYLabels,658.6,9,650,18);
  line(g,'axis-top-tick',658.6,464,667,464,'#333',1.2);
  gXTicks.forEach(t=>{
    line(g,'x-tick',sx(t),646,sx(t),656.5,'#333',1.2);
    label(g,'x-tick-label',sx(t),680,String(t),'middle',18);
  });
  line(g,'onset-line',sx(0),464,sx(0),656,'#444',1.2,'7 5');
  line(g,'zero-line',659,sy(0),833,sy(0),'#555',1.7,'6 5');
  line(g,'stimulus-bar',681.5,463.5,763,463.5,'#333',1.4);
  const xs = gTime.map(sx);
  band(g,'trace-band',xs,gValue.map((v,i)=>sy(v-gErr[i])),gValue.map((v,i)=>sy(v+gErr[i])),'#b4c0cc');
  curve(g,'difference-trace',xs,gValue.map(sy),'#555',2.2);

  const by = scale(80,-120,462.4,658.6);
  const bx = [927.4,961.2];
  line(g,'box-y-axis',897.6,462.4,897.6,658.6,'#333',1.2);
  line(g,'box-x-axis',897.6,658.6,991,658.6,'#444',1.6);
  yTicks(g,by,boxYTicks,boxYLabels,897.6,8,888,18);
  line(g,'significance-bar',923,460,964,460,'#333',1.3);
  boxCategories.forEach((c,i)=>{
    line(g,'whisker',bx[i],by(boxWhiskerHigh[i]),bx[i],by(boxWhiskerLow[i]),'#111',1.5);
    const r = create('rect',{x:bx[i]-8,y:by(boxQ3[i]),width:16,height:by(boxQ1[i])-by(boxQ3[i]),fill:'#9a9a9a'},g);
    
    
    line(g,'median-line',bx[i]-8,by(boxMedian[i]),bx[i]+8,by(boxMedian[i]),'#000',2.4);
    line(g,'mean-line',bx[i]-9.5,by(boxMean[i]),bx[i]+9.5,by(boxMean[i]),'#f01010',2.2);
    rotLabel(g,'category-label',bx[i]+7,673,c,-48,17.5,true);
  });
  line(g,'box-zero-line',897.6,by(0),988,by(0),'#555',1.7,'7 6');
})();

// ---------- panel h ----------
(function(){
  const g = byId('panelH');
  const sx = scale(-100,100,1100,1411), sy = scale(0,12,655.5,454.5);
  function bar(name,x0,v,fill,w){
    const el = create('rect',{x:sx(x0).toFixed(2),y:sy(v).toFixed(2),width:w,height:(sy(0)-sy(v)).toFixed(2),fill},g);
    
    
  }
  const w = hBinWidth*1.555-.5;
  hLeftTotal.forEach((v,i)=>{ bar('histogram-bar-total',-hBinWidth*(20-i),v,'#a8a8a8',w); });
  hLeftSig.forEach((v,i)=>{ bar('histogram-bar-suppressed',-hBinWidth*(20-i),v,'#08a07e',w); });
  hRightTotal.forEach((v,i)=>{ bar('histogram-bar-total',hBinWidth*i,v,'#a8a8a8',w); });
  hRightSig.forEach((v,i)=>{ bar('histogram-bar-potentiated',hBinWidth*i,v,'#ffa500',w); });
  line(g,'y-axis',1100,454.5,1100,655.5,'#333',1.2);
  line(g,'x-axis',1100,655.5,1411,655.5,'#222',2);
  yTicks(g,sy,hYTicks,null,1100,10,1092,18);
  hYTicks.forEach(t=>{ label(g,'y-tick-label',1092,sy(t)+6.5,String(t),'end',18); });
  hXTicks.forEach((t,i)=>{ label(g,'x-tick-label',sx(t),680,hXLabels[i],'middle',18); });
  line(g,'zero-line-backing',sx(0),456,sx(0),655,'#fff',1.8);
  line(g,'zero-line',sx(0),456,sx(0),655,'#000',1.8,'10 4');
})();

// ---------- panel j ----------
(function(){
  const g = byId('panelJ');
  function draw(series, xStart, xEnd, dashX, labelX, color, nm){
    const axisX = xStart, bottom = 954.8;
    const sy = scale(0,1,bottom,798);
    line(g,nm+'-y-axis',axisX,798,axisX,bottom,'#333',1.2);
    line(g,nm+'-x-axis',axisX,bottom,xEnd,bottom,'#444',1.6);
    dashX.forEach(x=>{ line(g,nm+'-day-boundary',x,798,x,bottom,'#7c8496',1.2,'6 4.5'); });
    labelX.forEach((x,i)=>{ label(g,nm+'-x-tick-label',x,978,jDayLabels[i],'middle',18); });
    const xs=[], ys=[];
    series.forEach((day,d)=>{
      const start = d===0 ? axisX+(nm==='within'?7:6) : dashX[d-1];
      const end = d<4 ? dashX[d] : xEnd-1;
      day.forEach((v,i)=>{ xs.push(start+(end-start)*i/day.length); ys.push(sy(v)); });
    });
    curve(g,nm+'-trace',xs,ys,color,1.8);
  }
  draw(jWithin,461.6,636.7,[501.6,535.7,569,602.6],[483.5,518,552,586,619],'#ad5cf6','within');
  draw(jAcross,654,830,[694.3,728,761.8,795.8],[675.6,710,744,778,811.7],'#12b012','across');
})();

// ---------- panel k ----------
(function(){
  const g = byId('panelK');
  const sy = scale(0,1,954.6,771.4);
  line(g,'y-axis',925.8,771.4,925.8,954.6,'#333',1.2);
  line(g,'x-axis',925.8,954.6,1020,954.6,'#333',1.4);
  yTicks(g,sy,kYTicks,kYLabels,925.8,9,916,18);
  kCosine.forEach(v=>{ dot(g,'cosine-point',973,sy(v),4,'#000'); });
})();

// ---------- panel l ----------
(function(){
  const g = byId('panelL');
  function draw(nm,axisX,xEnd,zeroX,stimEnd,dashY,ts,vs,color,dashColor){
    const sx = scale(0,4,zeroX,zeroX+74.7), sy = scale(0,1,955.4,dashY);
    line(g,nm+'-y-axis',axisX,810.5,axisX,955.4,'#333',1.2);
    line(g,nm+'-x-axis',axisX,955.4,xEnd,955.4,'#444',1.6);
    line(g,nm+'-stimulus-bar',zeroX,816,stimEnd,816,'#111',1.5);
    lXTicks.forEach(t=>{
      line(g,nm+'-x-tick',sx(t),947,sx(t),955.4,'#333',1.2);
      label(g,nm+'-x-tick-label',sx(t),981,String(t),'middle',18);
    });
    curve(g,nm+'-trace',ts.map(sx),vs.map(sy),color,2.8);
    line(g,nm+'-baseline',axisX,sy(1),xEnd,sy(1),dashColor,2.2,'5 4');
  }
  draw('within',1092,1204,1111,1204,832.6,lWithinTime,lWithinValue,'#a95cf5','#8a94a8');
  draw('across',1231.6,1343,1250,1342.5,831.4,lAcrossTime,lAcrossValue,'#14b014','#8a94a8');
})();

// ---------- panel m ----------
(function(){
  const g = byId('panelM');
  const sy = scale(0,3,954.6,805.2), bx = [1476,1525];
  line(g,'y-axis',1446.6,805.2,1446.6,954.6,'#333',1.2);
  line(g,'x-axis',1446.6,954.6,1558,954.6,'#333',1.4);
  yTicks(g,sy,mYTicks,mYLabels,1446.6,8,1437,18);
  line(g,'reference-line',1447,sy(1),1558,sy(1),'#8a94a8',2,'5 4.5');
  mCategories.forEach((c,i)=>{
    line(g,'x-tick',bx[i],946,bx[i],954.6,'#333',1.2);
    dot(g,'ramp-up-point',bx[i],sy(mValues[i]),4,mColors[i]);
    rotLabel(g,'category-label',bx[i]+10,971,c,-47,18,true);
  });
})();

// ---------- panel n trace ----------
(function(){
  const g = byId('panelN');
  const sx = scale(0,389,209.5,394.3), sy = scale(0,185,1317.5,1272.9);
  curve(g,'pupil-trace',pupilFrame.map(sx),pupilSignal.map(sy),'#3a3a3a',2);
  toneOnsets.forEach(t=>{ line(g,'tone-bar',sx(t),1320,sx(t+toneDuration),1320,'#000',5); });
})();

// ---------- panel o ----------
(function(){
  const g = byId('panelO');
  const sx = scale(1,5,566.7,706.9), sy = scale(.8,.2,1084,1289.3);
  line(g,'y-axis',548.7,1084,548.7,1289.3,'#444',1.2);
  line(g,'x-axis',548.7,1289.3,724,1289.3,'#444',1.6);
  yTicks(g,sy,oYTicks,oYLabels,548.7,8,540,18);
  oDays.forEach(d=>{
    line(g,'x-tick',sx(d),1281,sx(d),1289.3,'#333',1.2);
    label(g,'x-tick-label',sx(d),1311,String(d),'middle',18);
  });
  const xs = oDays.map(sx);
  band(g,'diameter-band',xs,oLower.map(sy),oUpper.map(sy),'#cbcbcb');
  curve(g,'diameter-line',xs,oMean.map(sy),'#666',3.6);
})();

// ---------- panel p ----------
(function(){
  const g = byId('panelP');
  function plot(nm,axisX,fits,d1x,d1y,d5x,d5y){
    const sx = scale(0,350,axisX,axisX+183.7), sy = scale(0,668,1296.5,1135.5);
    line(g,nm+'-y-axis',axisX,1135.5,axisX,1296.5,'#333',1.2);
    line(g,nm+'-x-axis',axisX,1296.5,axisX+183.7,1296.5,'#555',1.6);
    fits.forEach(f=>{ line(g,nm+'-fit-line',sx(f[0][0]),sy(f[1][0]),sx(f[0][1]),sy(f[1][1]),'#555',1.8); });
    d1x.forEach((x,i)=>{ dot(g,nm+'-day1-point',sx(x),sy(d1y[i]),3.5,'#333'); });
    d5x.forEach((x,i)=>{ dot(g,nm+'-day5-point',sx(x),sy(d5y[i]),2.9,'#f5246e'); });
  }
  plot('reduced-arousal',792,[[pLeftFitX,pLeftFitY]],pLeftDay1X,pLeftDay1Y,pLeftDay5X,pLeftDay5Y);
  plot('independent',1011.6,[[pRightDay1FitX,pRightDay1FitY],[pRightDay5FitX,pRightDay5FitY]],pRightDay1X,pRightDay1Y,pRightDay5X,pRightDay5Y);
})();

// ---------- panel q ----------
(function(){
  const g = byId('panelQ');
  const sy = scale(0,5,1265,1059.5);
  const tickX = [1346,1379.6,1413,1446.7,1479.8], dotX = [1354.3,1383.7,1413,1442.5,1471.4], labX = [1355,1389,1422,1455,1490];
  line(g,'y-axis',1325,1059.5,1325,1265,'#333',1.2);
  line(g,'x-axis',1325,1265,1501,1265,'#444',1.6);
  yTicks(g,sy,qYTicks,qYTicks.map(String),1325,8,1316,18);
  qBins.forEach((b,i)=>{
    line(g,'x-tick',tickX[i],1250,tickX[i],1265,'#333',1.1);
    rotLabel(g,'x-tick-label',labX[i],1283,b,-55,18,false);
    line(g,'day1-error-bar',dotX[i],sy(qDay1[i]-qDay1Err[i]),dotX[i],sy(qDay1[i]+qDay1Err[i]),'#444',1.5);
    dot(g,'day1-point',dotX[i],sy(qDay1[i]),4.6,'#444');
    line(g,'day5-error-bar',dotX[i],sy(qDay5[i]-qDay5ErrLow[i]),dotX[i],sy(qDay5[i]+qDay5ErrHigh[i]),'#f5305e',1.7);
    dot(g,'day5-point',dotX[i],sy(qDay5[i]),4.6,'#f5305e');
  });
})();
</script>
</body></html>
